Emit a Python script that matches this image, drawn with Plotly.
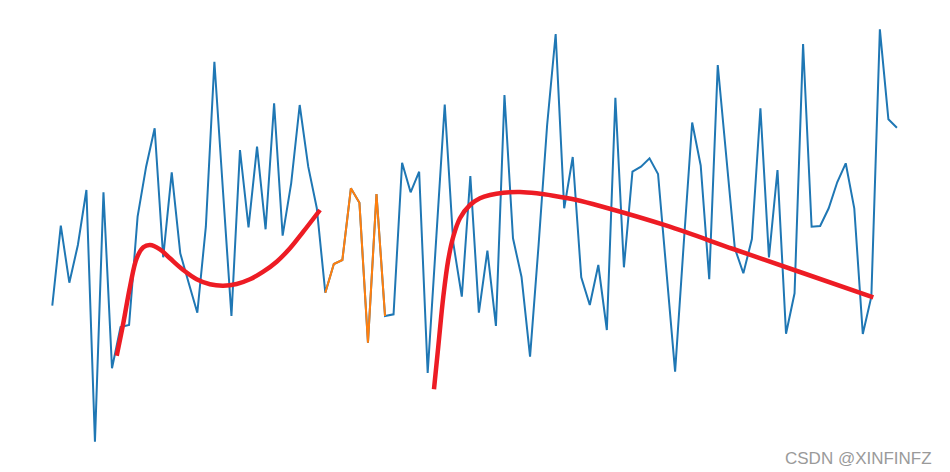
import plotly.graph_objects as go

# Noisy series (100 points), orange highlight covers indices 32-39
x_vals = list(range(100))
y_vals = [
    166.3, 246.3, 189.3, 227.0, 282.0, 30.3, 279.7, 103.7, 145.0, 147.0,
    255.3, 305.3, 343.7, 214.7, 299.7, 218.7, 188.7, 159.3, 245.3, 410.3,
    282.0, 156.0, 322.0, 244.7, 325.3, 242.7, 368.7, 236.3, 288.7, 367.0,
    305.3, 264.0, 179.3, 208.0, 212.0, 283.7, 269.3, 129.3, 278.0, 156.0,
    157.7, 309.3, 279.7, 300.3, 99.0, 234.0, 367.5, 229.0, 175.3, 296.0,
    159.3, 221.3, 146.0, 377.0, 233.7, 195.0, 115.3, 227.0, 347.0, 438.0,
    263.7, 315.0, 194.7, 167.0, 207.0, 142.0, 374.3, 204.7, 300.3, 305.3,
    313.7, 298.0, 202.0, 100.3, 227.0, 349.5, 306.5, 192.7, 407.0, 317.0,
    223.7, 198.7, 233.0, 363.7, 214.5, 302.0, 138.3, 178.7, 428.0, 245.3,
    246.0, 263.7, 289.7, 308.7, 263.7, 138.0, 175.3, 442.7, 352.7, 344.3,
]
hl_start, hl_end = 32, 39

# Fitted curves (red)
fit1_x = [7.55, 8.32, 9.11, 9.89, 10.67, 11.45, 12.62, 13.79, 15.35, 16.92,
          18.48, 20.04, 21.61, 23.17, 24.73, 26.30, 27.86, 29.42, 31.38]
fit1_y = [116.3, 148.7, 185.3, 213.7, 224.7, 227.0, 222.7, 213.7, 202.0, 192.7,
          187.7, 186.3, 188.0, 192.7, 200.3, 210.3, 223.7, 240.3, 262.0]

fit2_x = [44.74, 45.24, 45.83, 46.41, 47.00, 47.78, 48.96, 50.13, 51.30, 52.86,
          54.82, 56.77, 58.72, 61.46, 64.19, 72.01, 79.82, 87.63, 96.23]
fit2_y = [82.7, 125.3, 175.3, 212.0, 235.3, 253.7, 267.0, 273.7, 277.0, 279.3,
          280.0, 278.7, 276.3, 272.0, 266.0, 246.3, 223.0, 200.0, 174.7]

fig = go.Figure()

fig.add_trace(go.Scatter(x=x_vals, y=y_vals, mode='lines',
                         line=dict(color='#1f77b4', width=2)))
fig.add_trace(go.Scatter(x=x_vals[hl_start:hl_end + 1], y=y_vals[hl_start:hl_end + 1],
                         mode='lines', line=dict(color='#ff7f0e', width=2)))
fig.add_trace(go.Scatter(x=fit1_x, y=fit1_y, mode='lines',
                         line=dict(color='#ED1C24', width=4.5, shape='spline')))
fig.add_trace(go.Scatter(x=fit2_x, y=fit2_y, mode='lines',
                         line=dict(color='#ED1C24', width=4.5, shape='spline')))

# page body has an 8px margin, so the figure is a bit smaller than the window
fig.update_layout(
    width=942, height=464,
    margin=dict(l=0, r=0, t=0, b=0),
    plot_bgcolor='white', paper_bgcolor='white',
    showlegend=False,
    hovermode=False,
)
fig.update_xaxes(visible=False, range=[-5.19, 105.22])
fig.update_yaxes(visible=False, range=[0, 464])

# watermark
fig.add_annotation(text='CSDN @XINFINFZ', xref='paper', yref='paper',
                   x=926 / 942, y=1 - 450 / 464, xanchor='right', yanchor='middle',
                   showarrow=False,
                   font=dict(family='Liberation Sans, Arial', size=17, color='#9a9a9a'))

fig.write_html("out.html", config=dict(displayModeBar=False))
